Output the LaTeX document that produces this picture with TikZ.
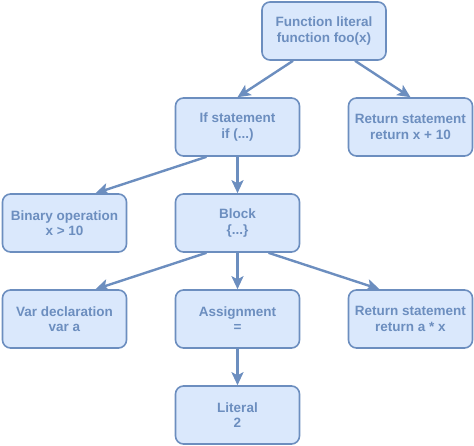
\documentclass[tikz,border=0pt]{standalone}
\usepackage{fontspec}
\setmainfont{Liberation Sans}
\usetikzlibrary{arrows.meta}
\definecolor{nodeblue}{RGB}{108,142,191}
\definecolor{nodefill}{RGB}{218,232,252}
\tikzset{
    astnode/.style={draw=nodeblue, fill=nodefill, text=nodeblue, rounded corners=8pt,
        line width=1.6pt, minimum width=124pt, minimum height=58pt, align=center,
        font=\bfseries\fontsize{13.5}{15.5}\selectfont},
    topleft/.style={edge from parent path={([xshift=-31pt]\tikzparentnode.south) -- (\tikzchildnode.north)}},
    topright/.style={edge from parent path={([xshift=31pt]\tikzparentnode.south) -- (\tikzchildnode.north)}},
    leftedge/.style={edge from parent path={([xshift=-31pt]\tikzparentnode.south) -- ([xshift=31pt]\tikzchildnode.north)}},
    rightedge/.style={edge from parent path={([xshift=31pt]\tikzparentnode.south) -- ([xshift=-31pt]\tikzchildnode.north)}},
    straightedge/.style={edge from parent path={(\tikzparentnode.south) -- (\tikzchildnode.north)}}
}
\begin{document}
\begin{tikzpicture}[level distance=96pt, sibling distance=173pt,
        edge from parent/.style={draw=nodeblue, line width=2.4pt, -{Stealth[length=13pt,width=12pt,inset=3pt]}}]
        \useasboundingbox (0,0) rectangle (474pt,-445pt);
        \node[astnode] (func) at (324pt,-31pt) {Function literal\\function foo(x)}
            child[topleft] {node[astnode] (ifst) {If statement\\if (...)}
            child[leftedge] {node[astnode] (binop) {Binary operation\\x > 10}}
            child[straightedge] {node[astnode] (block) {Block\\\{...\}}
            child[leftedge] {node[astnode] (vardecl) {Var declaration\\var a}}
            child[straightedge] {node[astnode] (assign) {Assignment\\=}
            child[straightedge] {node[astnode] (literal) {Literal\\2}}}
            child[rightedge] {node[astnode] (retax) {Return statement\\return a * x}}}
            child[missing]}
            child[topright] {node[astnode] (retx) {Return statement\\return x + 10}};
    \end{tikzpicture}
\end{document}
